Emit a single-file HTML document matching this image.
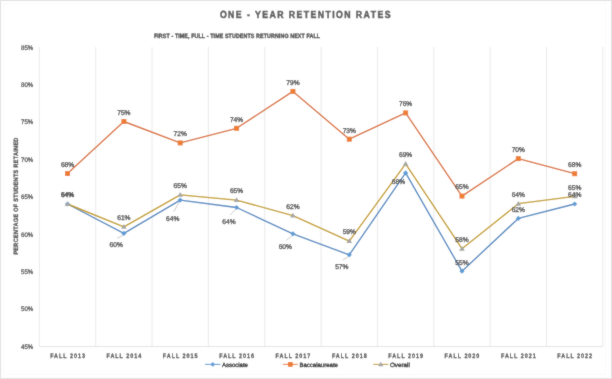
<!DOCTYPE html><html><head><meta charset="utf-8"><style>
html,body{margin:0;padding:0;background:#fff;}
body{width:612px;height:379px;overflow:hidden;}
svg{display:block;}
#c{width:612px;height:379px;}
text{font-family:"Liberation Sans",sans-serif;fill:#595959;stroke:#595959;text-rendering:geometricPrecision;}
.title{font-size:10.3px;font-weight:bold;stroke-width:0.55px;}
.sub{font-size:6.2px;font-weight:bold;stroke-width:0.35px;fill:#4a4a4a;stroke:#4a4a4a;}
.ytitle{font-size:6.3px;font-weight:bold;stroke-width:0.3px;fill:#4a4a4a;stroke:#4a4a4a;}
.yl{font-size:6.6px;stroke-width:0.35px;}
.xl{font-size:6.4px;font-weight:bold;stroke-width:0.25px;fill:#4a4a4a;stroke:#4a4a4a;}
.dl{font-size:7px;stroke-width:0.4px;}
.lg{font-size:6.1px;fill:#333;stroke:#333;stroke-width:0.35px;}
</style></head><body><div id="c"><svg width="612" height="379" viewBox="0 0 612 379"><defs><filter id="f" x="0" y="0" width="612" height="379" filterUnits="userSpaceOnUse"><feConvolveMatrix order="3" kernelMatrix="1 2 1 2 20 2 1 2 1" divisor="32" edgeMode="duplicate"/></filter></defs><g filter="url(#f)"><rect x="0.5" y="0.5" width="611" height="378" fill="#fff" stroke="#E2E2E2" stroke-width="1"/><rect x="3.5" y="3.5" width="602" height="371" fill="none" stroke="#FAFAFA" stroke-width="1"/><line x1="39.35" y1="47" x2="39.35" y2="346" stroke="#E3E3E3" stroke-width="0.8"/><line x1="95.70" y1="47" x2="95.70" y2="346" stroke="#E3E3E3" stroke-width="0.8"/><line x1="152.05" y1="47" x2="152.05" y2="346" stroke="#E3E3E3" stroke-width="0.8"/><line x1="208.40" y1="47" x2="208.40" y2="346" stroke="#E3E3E3" stroke-width="0.8"/><line x1="264.75" y1="47" x2="264.75" y2="346" stroke="#E3E3E3" stroke-width="0.8"/><line x1="321.10" y1="47" x2="321.10" y2="346" stroke="#E3E3E3" stroke-width="0.8"/><line x1="377.45" y1="47" x2="377.45" y2="346" stroke="#E3E3E3" stroke-width="0.8"/><line x1="433.80" y1="47" x2="433.80" y2="346" stroke="#E3E3E3" stroke-width="0.8"/><line x1="490.15" y1="47" x2="490.15" y2="346" stroke="#E3E3E3" stroke-width="0.8"/><line x1="546.50" y1="47" x2="546.50" y2="346" stroke="#E3E3E3" stroke-width="0.8"/><line x1="602.85" y1="47" x2="602.85" y2="346" stroke="#E3E3E3" stroke-width="0.8"/><line x1="39.35" y1="346.5" x2="602.85" y2="346.5" stroke="#D9D9D9" stroke-width="0.75"/><text class="yl" x="21" y="49.50" textLength="12.2" lengthAdjust="spacingAndGlyphs">85%</text><text class="yl" x="21" y="86.90" textLength="12.2" lengthAdjust="spacingAndGlyphs">80%</text><text class="yl" x="21" y="124.30" textLength="12.2" lengthAdjust="spacingAndGlyphs">75%</text><text class="yl" x="21" y="161.70" textLength="12.2" lengthAdjust="spacingAndGlyphs">70%</text><text class="yl" x="21" y="199.10" textLength="12.2" lengthAdjust="spacingAndGlyphs">65%</text><text class="yl" x="21" y="236.50" textLength="12.2" lengthAdjust="spacingAndGlyphs">60%</text><text class="yl" x="21" y="273.90" textLength="12.2" lengthAdjust="spacingAndGlyphs">55%</text><text class="yl" x="21" y="311.30" textLength="12.2" lengthAdjust="spacingAndGlyphs">50%</text><text class="yl" x="21" y="348.70" textLength="12.2" lengthAdjust="spacingAndGlyphs">45%</text><text class="xl" transform="translate(50.13,357.6) scale(0.85,1)" textLength="40.94" lengthAdjust="spacing">FALL 2013</text><text class="xl" transform="translate(106.47,357.6) scale(0.85,1)" textLength="40.94" lengthAdjust="spacing">FALL 2014</text><text class="xl" transform="translate(162.82,357.6) scale(0.85,1)" textLength="40.94" lengthAdjust="spacing">FALL 2015</text><text class="xl" transform="translate(219.17,357.6) scale(0.85,1)" textLength="40.94" lengthAdjust="spacing">FALL 2016</text><text class="xl" transform="translate(275.53,357.6) scale(0.85,1)" textLength="40.94" lengthAdjust="spacing">FALL 2017</text><text class="xl" transform="translate(331.88,357.6) scale(0.85,1)" textLength="40.94" lengthAdjust="spacing">FALL 2018</text><text class="xl" transform="translate(388.23,357.6) scale(0.85,1)" textLength="40.94" lengthAdjust="spacing">FALL 2019</text><text class="xl" transform="translate(444.58,357.6) scale(0.85,1)" textLength="40.94" lengthAdjust="spacing">FALL 2020</text><text class="xl" transform="translate(500.93,357.6) scale(0.85,1)" textLength="40.94" lengthAdjust="spacing">FALL 2021</text><text class="xl" transform="translate(557.28,357.6) scale(0.85,1)" textLength="40.94" lengthAdjust="spacing">FALL 2022</text><text class="title" transform="translate(219.9,17.6) scale(0.85,1)" x="0" y="0" textLength="200.71" lengthAdjust="spacing">ONE - YEAR RETENTION RATES</text><text class="sub" transform="translate(153.9,38.2) scale(0.86,1)" textLength="193.26" lengthAdjust="spacing">FIRST - TIME, FULL - TIME STUDENTS RETURNING NEXT FALL</text><text class="ytitle" transform="translate(17.5,254.6) rotate(-90) scale(0.88,1)" textLength="132.95" lengthAdjust="spacing">PERCENTAGE OF STUDENTS RETAINED</text><line x1="117.20" y1="238.30" x2="122.88" y2="235.40" stroke="#BDB3B3" stroke-width="0.7"/><line x1="173.70" y1="211.80" x2="179.22" y2="202.10" stroke="#BDB3B3" stroke-width="0.7"/><line x1="230.00" y1="215.00" x2="235.57" y2="209.50" stroke="#BDB3B3" stroke-width="0.7"/><line x1="286.30" y1="240.40" x2="291.93" y2="235.80" stroke="#BDB3B3" stroke-width="0.7"/><line x1="342.80" y1="260.00" x2="348.28" y2="256.80" stroke="#BDB3B3" stroke-width="0.7"/><polyline points="67.53,204.00 123.88,233.40 180.22,200.10 236.57,207.50 292.93,233.80 349.28,254.80 405.63,172.90 461.98,271.20 518.33,218.40 574.68,204.00" fill="none" stroke="#4A84BF" stroke-width="1.35" stroke-linejoin="round"/><polyline points="67.53,173.50 123.88,121.50 180.22,142.90 236.57,128.30 292.93,91.40 349.28,139.20 405.63,112.90 461.98,196.10 518.33,158.60 574.68,173.70" fill="none" stroke="#D96A2C" stroke-width="1.35" stroke-linejoin="round"/><polyline points="67.53,204.00 123.88,226.80 180.22,194.80 236.57,200.10 292.93,215.60 349.28,241.10 405.63,163.90 461.98,248.70 518.33,203.70 574.68,196.30" fill="none" stroke="#C29A10" stroke-width="1.35" stroke-linejoin="round"/><path d="M67.53,201.40L70.12,204.00L67.53,206.60L64.93,204.00Z" fill="#5B9BD5"/><path d="M123.88,230.80L126.47,233.40L123.88,236.00L121.28,233.40Z" fill="#5B9BD5"/><path d="M180.22,197.50L182.82,200.10L180.22,202.70L177.62,200.10Z" fill="#5B9BD5"/><path d="M236.57,204.90L239.17,207.50L236.57,210.10L233.97,207.50Z" fill="#5B9BD5"/><path d="M292.93,231.20L295.53,233.80L292.93,236.40L290.32,233.80Z" fill="#5B9BD5"/><path d="M349.28,252.20L351.88,254.80L349.28,257.40L346.68,254.80Z" fill="#5B9BD5"/><path d="M405.63,170.30L408.23,172.90L405.63,175.50L403.03,172.90Z" fill="#5B9BD5"/><path d="M461.98,268.60L464.58,271.20L461.98,273.80L459.38,271.20Z" fill="#5B9BD5"/><path d="M518.33,215.80L520.93,218.40L518.33,221.00L515.73,218.40Z" fill="#5B9BD5"/><path d="M574.68,201.40L577.28,204.00L574.68,206.60L572.08,204.00Z" fill="#5B9BD5"/><rect x="65.03" y="171.00" width="5.0" height="5.0" fill="#ED7D31"/><rect x="121.38" y="119.00" width="5.0" height="5.0" fill="#ED7D31"/><rect x="177.72" y="140.40" width="5.0" height="5.0" fill="#ED7D31"/><rect x="234.07" y="125.80" width="5.0" height="5.0" fill="#ED7D31"/><rect x="290.43" y="88.90" width="5.0" height="5.0" fill="#ED7D31"/><rect x="346.78" y="136.70" width="5.0" height="5.0" fill="#ED7D31"/><rect x="403.13" y="110.40" width="5.0" height="5.0" fill="#ED7D31"/><rect x="459.48" y="193.60" width="5.0" height="5.0" fill="#ED7D31"/><rect x="515.83" y="156.10" width="5.0" height="5.0" fill="#ED7D31"/><rect x="572.18" y="171.20" width="5.0" height="5.0" fill="#ED7D31"/><path d="M67.53,201.20L70.33,205.96L64.73,205.96Z" fill="#A5A5A5"/><path d="M123.88,224.00L126.67,228.76L121.08,228.76Z" fill="#A5A5A5"/><path d="M180.22,192.00L183.03,196.76L177.42,196.76Z" fill="#A5A5A5"/><path d="M236.57,197.30L239.38,202.06L233.77,202.06Z" fill="#A5A5A5"/><path d="M292.93,212.80L295.73,217.56L290.12,217.56Z" fill="#A5A5A5"/><path d="M349.28,238.30L352.08,243.06L346.48,243.06Z" fill="#A5A5A5"/><path d="M405.63,161.10L408.43,165.86L402.83,165.86Z" fill="#A5A5A5"/><path d="M461.98,245.90L464.78,250.66L459.18,250.66Z" fill="#A5A5A5"/><path d="M518.33,200.90L521.12,205.66L515.53,205.66Z" fill="#A5A5A5"/><path d="M574.68,193.50L577.48,198.26L571.88,198.26Z" fill="#A5A5A5"/><text class="dl" x="67.53" y="166.80" text-anchor="middle" textLength="13.3" lengthAdjust="spacingAndGlyphs">68%</text><text class="dl" x="123.88" y="114.80" text-anchor="middle" textLength="13.3" lengthAdjust="spacingAndGlyphs">75%</text><text class="dl" x="180.22" y="136.20" text-anchor="middle" textLength="13.3" lengthAdjust="spacingAndGlyphs">72%</text><text class="dl" x="236.57" y="121.60" text-anchor="middle" textLength="13.3" lengthAdjust="spacingAndGlyphs">74%</text><text class="dl" x="292.93" y="84.70" text-anchor="middle" textLength="13.3" lengthAdjust="spacingAndGlyphs">79%</text><text class="dl" x="349.28" y="132.50" text-anchor="middle" textLength="13.3" lengthAdjust="spacingAndGlyphs">73%</text><text class="dl" x="405.63" y="106.20" text-anchor="middle" textLength="13.3" lengthAdjust="spacingAndGlyphs">76%</text><text class="dl" x="461.98" y="189.40" text-anchor="middle" textLength="13.3" lengthAdjust="spacingAndGlyphs">65%</text><text class="dl" x="518.33" y="151.90" text-anchor="middle" textLength="13.3" lengthAdjust="spacingAndGlyphs">70%</text><text class="dl" x="574.68" y="167.00" text-anchor="middle" textLength="13.3" lengthAdjust="spacingAndGlyphs">68%</text><text class="dl" x="67.53" y="197.30" text-anchor="middle" textLength="13.3" lengthAdjust="spacingAndGlyphs">64%</text><text class="dl" x="123.88" y="220.10" text-anchor="middle" textLength="13.3" lengthAdjust="spacingAndGlyphs">61%</text><text class="dl" x="180.22" y="188.10" text-anchor="middle" textLength="13.3" lengthAdjust="spacingAndGlyphs">65%</text><text class="dl" x="236.57" y="193.40" text-anchor="middle" textLength="13.3" lengthAdjust="spacingAndGlyphs">65%</text><text class="dl" x="292.93" y="208.90" text-anchor="middle" textLength="13.3" lengthAdjust="spacingAndGlyphs">62%</text><text class="dl" x="349.28" y="234.40" text-anchor="middle" textLength="13.3" lengthAdjust="spacingAndGlyphs">59%</text><text class="dl" x="405.63" y="157.20" text-anchor="middle" textLength="13.3" lengthAdjust="spacingAndGlyphs">69%</text><text class="dl" x="461.98" y="242.00" text-anchor="middle" textLength="13.3" lengthAdjust="spacingAndGlyphs">58%</text><text class="dl" x="518.33" y="197.00" text-anchor="middle" textLength="13.3" lengthAdjust="spacingAndGlyphs">64%</text><text class="dl" x="574.68" y="189.60" text-anchor="middle" textLength="13.3" lengthAdjust="spacingAndGlyphs">65%</text><text class="dl" x="67.53" y="197.30" text-anchor="middle" textLength="13.3" lengthAdjust="spacingAndGlyphs">64%</text><text class="dl" x="116.20" y="247.10" text-anchor="middle" textLength="13.3" lengthAdjust="spacingAndGlyphs">60%</text><text class="dl" x="172.70" y="220.60" text-anchor="middle" textLength="13.3" lengthAdjust="spacingAndGlyphs">64%</text><text class="dl" x="229.00" y="223.80" text-anchor="middle" textLength="13.3" lengthAdjust="spacingAndGlyphs">64%</text><text class="dl" x="285.30" y="249.20" text-anchor="middle" textLength="13.3" lengthAdjust="spacingAndGlyphs">60%</text><text class="dl" x="341.80" y="268.80" text-anchor="middle" textLength="13.3" lengthAdjust="spacingAndGlyphs">57%</text><text class="dl" x="398.40" y="184.40" text-anchor="middle" textLength="13.3" lengthAdjust="spacingAndGlyphs">68%</text><text class="dl" x="461.98" y="264.50" text-anchor="middle" textLength="13.3" lengthAdjust="spacingAndGlyphs">55%</text><text class="dl" x="518.33" y="211.70" text-anchor="middle" textLength="13.3" lengthAdjust="spacingAndGlyphs">62%</text><text class="dl" x="574.68" y="197.30" text-anchor="middle" textLength="13.3" lengthAdjust="spacingAndGlyphs">64%</text><line x1="205.1" y1="364.4" x2="220.4" y2="364.4" stroke="#5B9BD5" stroke-width="1.1"/><path d="M212.75,362.0L215.15,364.4L212.75,366.79999999999995L210.35,364.4Z" fill="#5B9BD5"/><text class="lg" x="221.9" y="366.79999999999995" textLength="26" lengthAdjust="spacingAndGlyphs">Associate</text><line x1="283" y1="364.4" x2="297.7" y2="364.4" stroke="#ED7D31" stroke-width="1.1"/><rect x="287.95000000000005" y="362.0" width="4.8" height="4.8" fill="#ED7D31"/><text class="lg" x="299.4" y="366.79999999999995" textLength="38.6" lengthAdjust="spacingAndGlyphs">Baccalaureate</text><line x1="373.2" y1="364.4" x2="388.4" y2="364.4" stroke="#C9A02A" stroke-width="1.1"/><path d="M380.79999999999995,361.79999999999995L383.4,366.21999999999997L378.19999999999993,366.21999999999997Z" fill="#A5A5A5"/><text class="lg" x="389.9" y="366.79999999999995" textLength="20" lengthAdjust="spacingAndGlyphs">Overall</text></g></svg></div></body></html>
